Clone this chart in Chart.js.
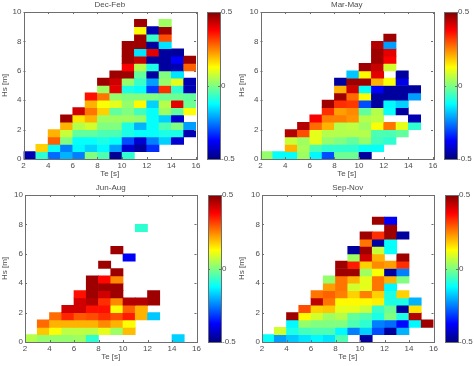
<!DOCTYPE html>
<html>
<head>
<meta charset="utf-8">
<script src="https://cdn.jsdelivr.net/npm/chart.js@4"></script>
<style>
  html, body { margin: 0; background: #fff; overflow: hidden; }
  canvas { position: absolute; }
</style>
</head>
<body>
<script>
const _ = null;
const teBins = [2, 3, 4, 5, 6, 7, 8, 9, 10, 11, 12, 13, 14, 15];
const xTicks = [2, 4, 6, 8, 10, 12, 14, 16];
const yTicks = [0, 2, 4, 6, 8, 10];
const barTicks = [-0.5, 0, 0.5];
const hsStep = 0.5;

// rows run from Hs 0-0.5 upward, columns follow teBins
const decFeb = [
  [-.45, -.08, -.27, -.2, -.25, 0, -.05, -.48, -.08, _, _, _, _, _],
  [_, .17, -.12, -.25, -.13, -.17, -.13, -.22, -.42, -.47, -.33, _, _, _],
  [_, _, .28, 0, -.12, -.12, -.1, -.12, -.3, -.42, -.25, -.17, -.42, _],
  [_, _, .2, .07, -.03, -.03, -.05, -.05, -.1, -.12, -.12, -.1, -.1, -.45],
  [_, _, _, .2, .05, .08, 0, 0, -.1, -.2, -.12, -.05, 0, -.22],
  [_, _, _, .47, .15, .2, .03, .03, .03, .02, -.12, -.17, -.42, _],
  [_, _, _, _, .42, .26, .17, -.03, 0, -.06, -.12, .03, -.03, .12],
  [_, _, _, _, _, .2, .12, .1, .02, .13, -.17, .05, .4, -.02],
  [_, _, _, _, _, .36, .26, .02, 0, 0, 0, -.02, -.02, -.03],
  [_, _, _, _, _, _, .03, .4, -.1, -.12, -.32, .33, -.08, -.45],
  [_, _, _, _, _, _, .47, .42, .02, -.07, -.22, .02, .1, -.45],
  [_, _, _, _, _, _, _, .47, .47, -.03, -.47, 0, -.15, _],
  [_, _, _, _, _, _, _, _, .38, .05, -.1, -.47, -.45, .28],
  [_, _, _, _, _, _, _, _, .47, .43, -.47, -.47, -.38, .47],
  [_, _, _, _, _, _, _, _, .47, -.15, .4, -.47, -.47, _],
  [_, _, _, _, _, _, _, _, .47, .47, -.47, -.15, _, _],
  [_, _, _, _, _, _, _, _, _, .47, -.07, .3, _, _],
  [_, _, _, _, _, _, _, _, _, .12, -.45, .47, _, _],
  [_, _, _, _, _, _, _, _, _, .47, _, .03, _, _],
];
const marMay = [
  [.02, -.12, -.12, .03, -.13, -.3, -.02, -.02, -.47, _, _, _, _, _],
  [_, _, .2, .04, -.05, -.08, -.08, -.08, -.12, -.12, _, _, _, _],
  [_, _, .07, .03, .1, .02, 0, -.03, .02, -.06, -.08, _, _, _],
  [_, _, .45, .3, .1, .05, .05, .05, .05, -.05, -.05, -.03, _, _],
  [_, _, _, .45, .27, .2, .05, .06, .03, .12, .26, .1, -.08, _],
  [_, _, _, _, .38, .25, .25, .23, .05, .06, _, _, -.45, _],
  [_, _, _, _, _, .33, .22, .24, -.03, .05, -.12, -.47, _, _],
  [_, _, _, _, _, .47, .33, .32, -.3, -.47, -.13, -.17, _, _],
  [_, _, _, _, _, _, .47, .27, .12, -.47, -.47, -.47, -.22, _],
  [_, _, _, _, _, _, .2, .42, -.12, -.38, -.47, -.47, -.47, _],
  [_, _, _, _, _, _, -.47, .47, .47, .2, .12, -.4, _, _],
  [_, _, _, _, _, _, _, -.18, .13, .4, _, -.47, _, _],
  [_, _, _, _, _, _, _, _, .47, .43, .08, _, _, _],
  [_, _, _, _, _, _, _, _, _, .47, .38, _, _, _],
  [_, _, _, _, _, _, _, _, _, .47, .4, _, _, _],
  [_, _, _, _, _, _, _, _, _, .45, -.22, _, _, _],
  [_, _, _, _, _, _, _, _, _, _, .47, _, _, _],
];
const junAug = [
  [.05, .02, .02, .02, .03, -.08, _, _, _, _, _, _, -.17, _],
  [_, .18, .12, .06, .06, .06, .1, .03, .19, _, _, _, _, _],
  [_, .27, .2, .2, .2, .2, .24, .2, .12, _, _, _, _, _],
  [_, _, .27, .34, .29, .3, .33, .3, .35, .2, -.18, _, _, _],
  [_, _, _, .42, .42, .36, .36, .12, .28, .2, _, _, _, _],
  [_, _, _, _, .42, .45, .33, .24, .45, .45, .47, _, _, _],
  [_, _, _, _, .36, .47, .42, .47, _, _, .47, _, _, _],
  [_, _, _, _, _, .47, .47, .47, _, _, _, _, _, _],
  [_, _, _, _, _, .47, .37, .24, _, _, _, _, _, _],
  [_, _, _, _, _, _, _, .47, _, _, _, _, _, _],
  [_, _, _, _, _, _, .47, _, _, _, _, _, _, _],
  [_, _, _, _, _, _, _, _, -.38, _, _, _, _, _],
  [_, _, _, _, _, _, _, .47, _, _, _, _, _, _],
  [_, _, _, _, _, _, _, _, _, _, _, _, _, _],
  [_, _, _, _, _, _, _, _, _, _, _, _, _, _],
  [_, _, _, _, _, _, _, _, _, -.08, _, _, _, _],
];
const sepNov = [
  [-.12, -.22, -.18, -.15, -.13, -.15, -.05, _, -.47, _, _, _, _, _],
  [_, .08, -.1, -.06, -.05, -.05, -.13, -.25, -.17, -.3, -.47, -.2, _, _],
  [_, _, -.13, .02, 0, 0, 0, -.05, -.08, -.25, -.27, -.37, -.13, .47],
  [_, _, .47, .13, .08, .03, .05, -.03, -.05, -.1, 0, -.1, .45, _],
  [_, _, _, .3, .17, .18, .1, .1, .07, -.07, -.02, -.47, .15, _],
  [_, _, _, _, .44, .26, .13, .13, .13, .14, -.1, -.1, -.2, _],
  [_, _, _, _, .26, .28, .25, .17, .25, .17, -.1, .17, _, _],
  [_, _, _, _, _, .22, .26, .08, .1, .26, -.13, _, _, _],
  [_, _, _, _, _, .02, .26, .2, .1, .26, .2, 0, _, _],
  [_, _, _, _, _, _, .47, .47, .03, .12, -.47, -.25, _, _],
  [_, _, _, _, _, _, .47, .35, .17, .24, .22, .33, _, _],
  [_, _, _, _, _, _, _, .03, .42, .2, _, .47, _, _],
  [_, _, _, _, _, _, _, -.47, .47, .07, -.12, _, _, _],
  [_, _, _, _, _, _, _, _, .26, -.47, -.12, _, _, _],
  [_, _, _, _, _, _, _, _, .47, .33, .47, -.47, _, _],
  [_, _, _, _, _, _, _, _, _, _, .47, _, _, _],
  [_, _, _, _, _, _, _, _, _, .47, -.38, _, _, _],
];

const textColor = "#4d4d4d";
const frameColor = "#6e6e6e";
const fontFamily = "'Liberation Sans', Arial, sans-serif";
const font = { family: fontFamily, size: 8 };

const clamp = (n) => Math.max(0, Math.min(1, n));
// matlab jet, -0.5..0.5
function jet(v) {
  const t = v + 0.5;
  const c = (k) => Math.round(255 * clamp(1.5 - Math.abs(4 * t - k)));
  return `rgb(${c(3)},${c(2)},${c(1)})`;
}

// box and inward ticks, matlab style
const framePlugin = {
  id: "frame",
  afterDatasetsDraw(chart) {
    const { ctx, chartArea: a, scales } = chart;
    ctx.save();
    ctx.strokeStyle = frameColor;
    ctx.lineWidth = 1;
    ctx.strokeRect(Math.round(a.left) + 0.5, Math.round(a.top) + 0.5,
      Math.round(a.right - a.left), Math.round(a.bottom - a.top));
    ctx.beginPath();
    if (scales.x.type === "linear") {
      scales.x.ticks.forEach((t) => {
        const x = Math.round(scales.x.getPixelForValue(t.value)) + 0.5;
        ctx.moveTo(x, a.top); ctx.lineTo(x, a.top + 2);
        ctx.moveTo(x, a.bottom); ctx.lineTo(x, a.bottom - 2);
      });
    }
    scales.y.ticks.forEach((t) => {
      const y = Math.round(scales.y.getPixelForValue(t.value)) + 0.5;
      ctx.moveTo(a.left, y); ctx.lineTo(a.left + 2, y);
      ctx.moveTo(a.right, y); ctx.lineTo(a.right - 2, y);
    });
    ctx.stroke();
    ctx.restore();
  }
};

function addCanvas(left, top, width, height) {
  const c = document.createElement("canvas");
  c.width = width; c.height = height;
  c.style.left = left + "px"; c.style.top = top + "px";
  c.style.width = width + "px"; c.style.height = height + "px";
  document.body.appendChild(c);
  return c;
}

function cells(rows) {
  const out = [];
  rows.forEach((row, i) => row.forEach((v, j) => {
    if (v !== null) out.push({ x: teBins[j] + 0.5, y: [i * hsStep, (i + 1) * hsStep], v });
  }));
  return out;
}

function heatmap(p) {
  new Chart(addCanvas(p.left, p.top, 212, 183), {
    type: "bar",
    data: { datasets: [{
      data: cells(p.rows),
      backgroundColor: (c) => (c.raw ? jet(c.raw.v) : "#000"),
      borderWidth: 0,
      grouped: false,
      barPercentage: 1,
      categoryPercentage: 1
    }] },
    options: {
      responsive: false,
      animation: false,
      layout: { padding: { top: 0, right: p.right, bottom: 0, left: 0 } },
      plugins: {
        legend: { display: false },
        tooltip: { enabled: false },
        title: {
          display: true, text: p.title, color: textColor, fullSize: false,
          font: { family: fontFamily, size: 8, weight: "normal", lineHeight: 1.125 },
          padding: { top: 0, bottom: 3 }
        }
      },
      scales: {
        x: {
          type: "linear", min: 2, max: 16, offset: false,
          grid: { display: false, drawTicks: false }, border: { display: false },
          afterBuildTicks: (s) => { s.ticks = xTicks.map((value) => ({ value })); },
          afterFit: (s) => { s.height = 24; },
          ticks: { color: textColor, font, padding: 2, maxRotation: 0, autoSkip: false },
          title: { display: true, text: "Te [s]", color: textColor, font, padding: { top: 0, bottom: 4 } }
        },
        y: {
          min: 0, max: 10,
          grid: { display: false, drawTicks: false }, border: { display: false },
          afterBuildTicks: (s) => { s.ticks = yTicks.map((value) => ({ value })); },
          afterFit: (s) => { s.width = p.plotLeft; },
          ticks: { color: textColor, font, padding: 2 },
          title: { display: true, text: "Hs [m]", color: textColor, font, padding: 0 }
        }
      }
    },
    plugins: [framePlugin]
  });
}

function colorbar(p) {
  new Chart(addCanvas(p.left + p.barLeft, p.top, 30, 183), {
    type: "bar",
    data: { labels: [""], datasets: [{
      data: [[barTicks[0], barTicks[2]]],
      borderWidth: 0,
      barPercentage: 1,
      categoryPercentage: 1,
      backgroundColor: (c) => {
        const a = c.chart.chartArea;
        if (!a) return "#000";
        const g = c.chart.ctx.createLinearGradient(0, a.bottom, 0, a.top);
        for (let i = 0; i <= 8; i++) g.addColorStop(i / 8, jet(i / 8 - 0.5));
        return g;
      }
    }] },
    options: {
      responsive: false,
      animation: false,
      layout: { padding: { top: p.barTop, bottom: 24, left: 0, right: 0 } },
      plugins: { legend: { display: false }, tooltip: { enabled: false } },
      scales: {
        x: { display: false },
        y: {
          position: "right", min: -0.5, max: 0.5,
          grid: { display: false, drawTicks: false }, border: { display: false },
          afterBuildTicks: (s) => { s.ticks = barTicks.map((value) => ({ value })); },
          afterFit: (s) => { s.width = 17; },
          ticks: { color: textColor, font, padding: 1, autoSkip: false }
        }
      }
    },
    plugins: [framePlugin]
  });
}

const panels = [
  { title: "Dec-Feb", rows: decFeb, left: 0, top: 0, plotLeft: 23.5, right: 16, barLeft: 207, barTop: 12 },
  { title: "Mar-May", rows: marMay, left: 237, top: 0, plotLeft: 23.5, right: 16, barLeft: 207, barTop: 12 },
  { title: "Jun-Aug", rows: junAug, left: 0, top: 183, plotLeft: 25, right: 15.5, barLeft: 208, barTop: 12 },
  { title: "Sep-Nov", rows: sepNov, left: 237, top: 183, plotLeft: 25, right: 15.5, barLeft: 208, barTop: 12 },
];

panels.forEach((p) => { heatmap(p); colorbar(p); });
</script>
</body>
</html>
